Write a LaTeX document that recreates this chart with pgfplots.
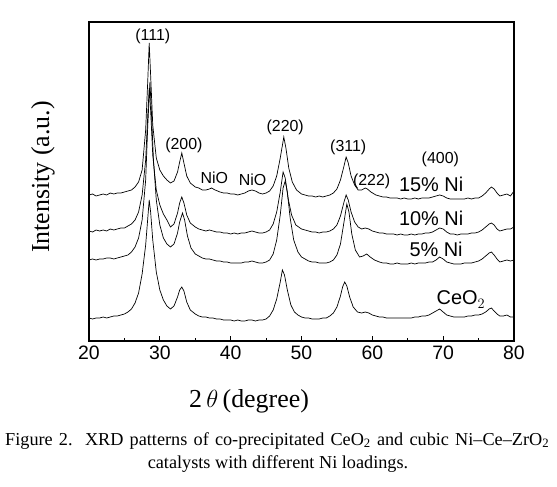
\documentclass[border=0pt]{standalone}
\usepackage{fontspec}
\setmainfont{Liberation Serif}
\setsansfont{Liberation Sans}
\usepackage{pgfplots}
\pgfplotsset{compat=1.18}
\begin{document}
\begin{tikzpicture}
\useasboundingbox (-89bp,-146bp) rectangle (468bp,341bp);
\begin{axis}[
  at={(0,0)}, anchor=south west,
  width=425bp, height=319bp, scale only axis,
  xmin=20, xmax=80, ymin=0, ymax=319,
  xtick={20,30,40,50,60,70,80},
  minor x tick num=1,
  ytick=\empty,
  xtick pos=bottom,
  tick align=inside,
  major tick length=5bp, minor tick length=3bp,
  axis line style={line width=1.6bp},
  every tick/.style={line width=1bp, black},
  tick label style={font=\sffamily\fontsize{19.5}{19.5}\selectfont},
  /pgf/number format/assume math mode=true,
  xticklabel style={yshift=-1bp},
  clip=false,
]
% 15% Ni
\addplot[black, line width=0.7bp] coordinates {
(20,146)(20.5,147)(21,145)(21.5,146)(22,147)(22.5,146)(23,148)(23.5,147)(24,148)(24.5,148)(25,149)(25.5,150)(26,151)(26.5,154)(27,159)(27.5,171)(28,211)(28.3,261)(28.5,298)(28.7,266)(29,216)(29.5,183)(30,171)(30.5,165)(31,161)(31.5,158)(32,160)(32.5,169)(32.8,179)(33.1,188)(33.4,178)(33.8,165)(34.3,158)(35,154)(35.5,153)(36,151)(36.5,151)(37,152)(37.3,153)(37.8,151)(38.5,149)(39,148)(39.5,148)(40,147)(40.5,147)(41,146)(41.5,147)(42,148)(42.5,150)(43,151)(43.5,150)(44,148)(44.5,147)(45,148)(45.5,150)(46,155)(46.5,165)(47,183)(47.5,204)(47.8,193)(48.2,173)(48.7,159)(49.3,151)(50,147)(50.5,146)(51,145)(51.5,145)(52,144)(52.5,145)(53,144)(53.5,145)(54,146)(54.5,148)(55,152)(55.5,161)(56,175)(56.3,184)(56.6,178)(57,165)(57.5,156)(58,151)(58.5,151)(59,153)(59.3,152)(59.8,149)(60.5,146)(61,145)(61.5,144)(62,144)(62.5,143)(63,143)(63.5,143)(64,142)(64.5,143)(65,142)(65.5,142)(66,143)(66.5,142)(67,143)(67.5,143)(68,143)(68.5,144)(69,145)(69.5,146)(70,145)(70.5,143)(71,142)(71.5,142)(72,142)(72.5,142)(73,142)(73.5,143)(74,142)(74.5,143)(75,143)(75.5,145)(76,148)(76.5,152)(76.8,154)(77.2,152)(77.6,148)(78,145)(78.5,146)(79,147)(79.5,145)(80,150)
};
% 10% Ni
\addplot[black, line width=0.7bp] coordinates {
(20,110)(20.5,109)(21,111)(21.5,110)(22,111)(22.5,110)(23,112)(23.5,111)(24,112)(24.5,113)(25,113)(25.5,115)(26,117)(26.5,121)(27,129)(27.5,146)(28,181)(28.3,226)(28.5,253)(28.7,231)(29,186)(29.5,151)(30,136)(30.5,127)(31,121)(31.5,114)(32,117)(32.5,128)(32.8,138)(33.1,144)(33.4,138)(33.8,126)(34.3,118)(35,114)(35.5,112)(36,111)(36.5,110)(37,111)(37.5,110)(38,109)(38.5,109)(39,108)(39.5,108)(40,107)(40.5,108)(41,107)(41.5,108)(42,108)(42.5,109)(43,110)(43.5,109)(44,108)(44.5,108)(45,109)(45.5,111)(46,117)(46.5,129)(47,149)(47.4,169)(47.7,163)(48.1,143)(48.6,126)(49.2,116)(50,112)(50.5,111)(51,110)(51.5,109)(52,109)(52.5,108)(53,109)(53.5,109)(54,110)(54.5,112)(55,116)(55.5,125)(56,139)(56.3,146)(56.6,141)(57,129)(57.5,119)(58,114)(58.5,112)(59,113)(59.5,112)(60,110)(60.5,109)(61,108)(61.5,108)(62,107)(62.5,107)(63,107)(63.5,106)(64,107)(64.5,106)(65,106)(65.5,107)(66,106)(66.5,107)(67,107)(67.5,108)(68,108)(68.5,109)(69,111)(69.5,113)(70,112)(70.5,109)(71,107)(71.5,107)(72,106)(72.5,107)(73,107)(73.5,107)(74,108)(74.5,108)(75,109)(75.5,111)(76,114)(76.5,117)(76.8,118)(77.2,116)(77.6,112)(78,110)(78.5,111)(79,112)(79.5,112)(80,114)
};
% 5% Ni
\addplot[black, line width=0.7bp] coordinates {
(20,81)(20.5,82)(21,81)(21.5,82)(22,82)(22.5,83)(23,83)(23.5,82)(24,83)(24.5,84)(25,85)(25.5,86)(26,89)(26.5,94)(27,103)(27.5,121)(28,161)(28.3,216)(28.6,259)(28.8,231)(29.1,181)(29.5,141)(30,116)(30.5,103)(31,97)(31.5,94)(32,97)(32.5,108)(32.8,119)(33.2,128)(33.5,121)(33.9,105)(34.4,93)(35,87)(35.5,85)(36,83)(36.5,82)(37,82)(37.5,81)(38,80)(38.5,80)(39,79)(39.5,79)(40,78)(40.5,78)(41,78)(41.5,78)(42,79)(42.5,79)(43,80)(43.5,79)(44,78)(44.5,78)(45,79)(45.5,81)(46,87)(46.5,101)(47,126)(47.4,153)(47.7,160)(48.0,149)(48.4,123)(48.9,101)(49.5,89)(50,84)(50.5,82)(51,80)(51.5,79)(52,79)(52.5,78)(53,78)(53.5,78)(54,79)(54.5,81)(55,86)(55.5,97)(56,119)(56.4,137)(56.7,129)(57.1,107)(57.6,91)(58.2,84)(58.7,85)(59.2,87)(59.7,84)(60.3,81)(61,79)(61.5,78)(62,78)(62.5,77)(63,77)(63.5,78)(64,77)(64.5,77)(65,77)(65.5,78)(66,77)(66.5,78)(67,78)(67.5,78)(68,79)(68.5,79)(69,81)(69.5,84)(70,82)(70.5,79)(71,78)(71.5,77)(72,77)(72.5,77)(73,78)(73.5,78)(74,78)(74.5,79)(75,80)(75.5,82)(76,85)(76.5,88)(76.8,89)(77.2,86)(77.6,82)(78,79)(78.5,80)(79,81)(79.5,80)(80,81)
};
% CeO2
\addplot[black, line width=0.7bp] coordinates {
(20,23)(20.5,22)(21,23)(21.5,23)(22,24)(22.5,23)(23,24)(23.5,25)(24,25)(24.5,26)(25,27)(25.5,29)(26,32)(26.5,38)(27,48)(27.5,67)(28,96)(28.3,123)(28.5,141)(28.7,129)(29,101)(29.5,69)(30,51)(30.5,41)(31,35)(31.5,32)(32,35)(32.5,44)(32.8,51)(33.1,54)(33.4,50)(33.8,39)(34.3,31)(35,27)(35.5,25)(36,24)(36.5,24)(37,23)(37.5,23)(38,22)(38.5,22)(39,21)(39.5,21)(40,21)(40.5,20)(41,21)(41.5,20)(42,20)(42.5,21)(43,21)(43.5,20)(44,21)(44.5,21)(45,22)(45.5,25)(46,31)(46.5,42)(47,59)(47.3,71)(47.6,66)(48,51)(48.5,36)(49,29)(49.5,26)(50,24)(50.5,23)(51,23)(51.5,22)(52,22)(52.5,22)(53,23)(53.5,23)(54,25)(54.5,28)(55,34)(55.5,45)(55.8,54)(56.1,59)(56.4,55)(56.8,44)(57.3,34)(57.9,29)(58.5,28)(59,29)(59.5,28)(60,26)(60.5,25)(61,24)(61.5,24)(62,23)(62.5,23)(63,23)(63.5,23)(64,23)(64.5,23)(65,23)(65.5,23)(66,24)(66.5,24)(67,25)(67.5,25)(68,26)(68.5,28)(69,30)(69.5,32)(70,29)(70.5,26)(71,25)(71.5,24)(72,24)(72.5,24)(73,24)(73.5,25)(74,25)(74.5,26)(75,26)(75.5,27)(76,29)(76.5,32)(76.8,33)(77.2,30)(77.6,27)(78,25)(78.5,25)(79,26)(79.5,24)(80,24)
};
\begin{scope}[every node/.style={font=\sffamily\fontsize{16}{16}\selectfont, inner sep=0pt}]
\node at (axis cs:29.0,305) {(111)};
\node at (axis cs:33.4,196) {(200)};
\node at (axis cs:37.7,163) {NiO};
\node at (axis cs:43.1,161) {NiO};
\node at (axis cs:47.7,214) {(220)};
\node at (axis cs:56.6,194) {(311)};
\node at (axis cs:59.9,160) {(222)};
\node at (axis cs:69.6,182) {(400)};
\end{scope}
\begin{scope}[every node/.style={font=\sffamily\fontsize{20}{20}\selectfont, inner sep=0pt}]
\node at (axis cs:68.3,157) {15\% Ni};
\node at (axis cs:68.3,123) {10\% Ni};
\node at (axis cs:69.0,92) {5\% Ni};
\node[anchor=base] at (axis cs:72.5,36) {CeO$_2$};
\end{scope}
\end{axis}
\node[anchor=base, font=\fontsize{26}{26}\selectfont] at (160bp,-66bp) {2\,$\theta$\,(degree)};
\node[rotate=90, font=\fontsize{26}{26}\selectfont] at (-46bp,164bp) {Intensity (a.u.)};
\node[anchor=base west, inner sep=0pt, font=\fontsize{18.3}{18.3}\selectfont] at (-84bp,-104bp) {\hbox to 544bp{Figure 2.\ \ XRD patterns of co-precipitated CeO\textsubscript{2} and cubic Ni--Ce--ZrO\textsubscript{2}}};
\node[anchor=base, inner sep=0pt, font=\fontsize{18.3}{18.3}\selectfont] at (189bp,-127bp) {catalysts with different Ni loadings.};
\end{tikzpicture}
\end{document}
